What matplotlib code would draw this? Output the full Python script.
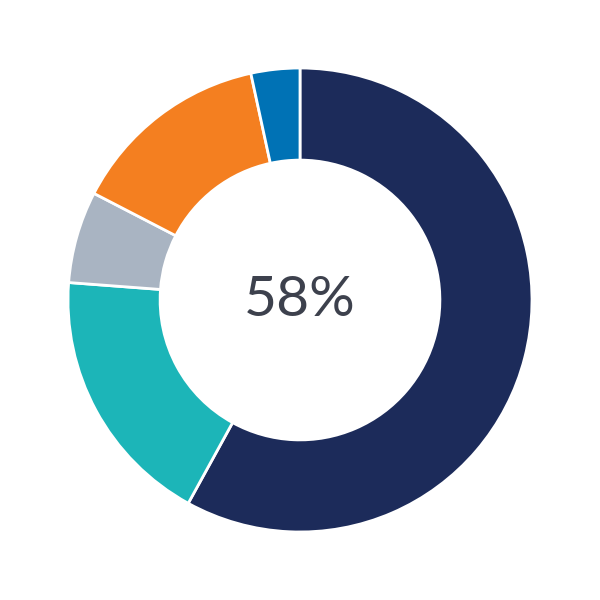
import matplotlib
matplotlib.use('Agg')
import matplotlib.pyplot as plt

labels = ['Navy', 'Teal', 'Gray', 'Orange', 'Blue']
values = [58, 18.2, 6.4, 14, 3.4]
colors = ['#1c2b5a', '#1cb5b8', '#a9b4c2', '#f47f20', '#0072b5']
center_label = '58%'

fig = plt.figure(figsize=(6, 6), dpi=100)
ax = fig.add_axes([0, 0, 1, 1])
ax.pie(values, colors=colors, startangle=90, counterclock=False, radius=1.0,
       wedgeprops=dict(width=0.397, edgecolor='white', linewidth=2))
ax.text(0, 0, center_label, ha='center', va='center', fontsize=41,
        family=['Lato', 'DejaVu Sans'], color='#3d414d')
lim = 300 / 232
ax.set_xlim(-lim, lim)
ax.set_ylim(-lim, lim)
ax.set_aspect('equal')
ax.axis('off')
fig.savefig('out.png', dpi=100, facecolor='white')
